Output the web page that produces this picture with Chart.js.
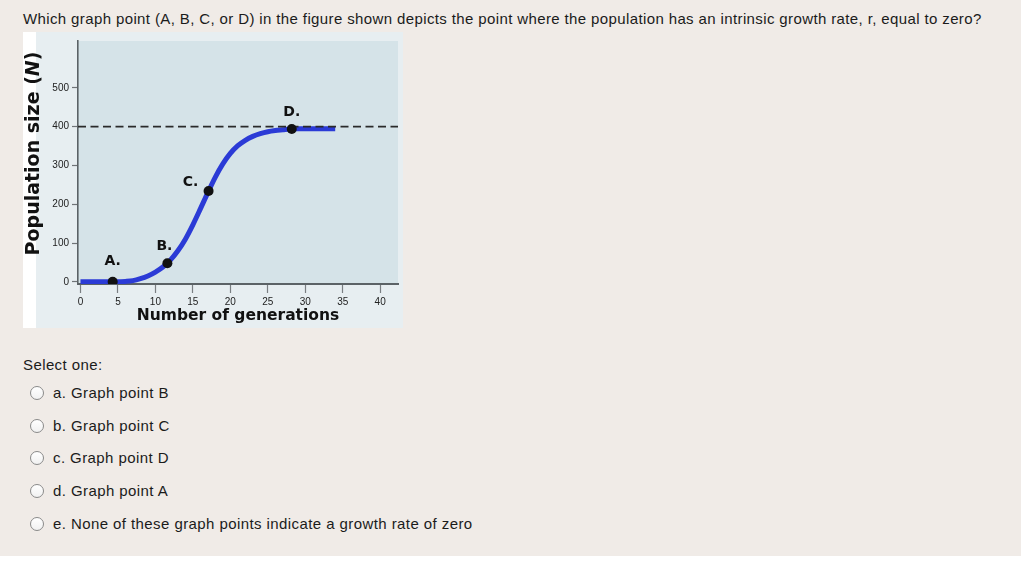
<!DOCTYPE html>
<html>
<head>
<meta charset="utf-8">
<script src="https://cdn.jsdelivr.net/npm/chart.js@4.4.1/dist/chart.umd.min.js"></script>
<style>
    html, body { margin: 0; padding: 0; }
    body {
        width: 1024px; height: 566px; overflow: hidden;
        background: #ffffff;
        font-family: "Liberation Sans", Arial, sans-serif;
        color: #1b1b1b;
    }
    #panel {
        position: absolute; left: 0; top: 0; width: 1021px; height: 556px;
        background: #f0ebe7;
    }
    #question {
        position: absolute; left: 23px; top: 10px;
        font-size: 15px; letter-spacing: 0.38px; white-space: nowrap;
    }
    #chart-box {
        position: absolute; left: 23px; top: 32px; width: 380px; height: 296px;
    }
    #select { position: absolute; left: 23px; top: 356px; font-size: 15px; letter-spacing: 0.4px; }
    .opt { position: absolute; left: 30px; font-size: 15px; letter-spacing: 0.42px; white-space: nowrap; height: 17px; }
    .opt .radio {
        position: absolute; left: 0; top: 1px; width: 12px; height: 12px;
        border: 1px solid #8a8a8a; border-radius: 50%;
        background: linear-gradient(#ffffff, #f1f1f1);
    }
    .opt span.txt { position: absolute; left: 23px; top: -1px; line-height: 17px; }
</style>
</head>
<body>
<div id="panel">
    <div id="question">Which graph point (A, B, C, or D) in the figure shown depicts the point where the population has an intrinsic growth rate, r, equal to zero?</div>
    <div id="chart-box"><canvas id="logisticChart"></canvas></div>
    <div id="select">Select one:</div>
    <div class="opt" style="top:385px"><div class="radio"></div><span class="txt">a. Graph point B</span></div>
    <div class="opt" style="top:418px"><div class="radio"></div><span class="txt">b. Graph point C</span></div>
    <div class="opt" style="top:450px"><div class="radio"></div><span class="txt">c. Graph point D</span></div>
    <div class="opt" style="top:483px"><div class="radio"></div><span class="txt">d. Graph point A</span></div>
    <div class="opt" style="top:516px"><div class="radio"></div><span class="txt">e. None of these graph points indicate a growth rate of zero</span></div>
</div>

<script>
// --- data ---
const generations = [0, 1, 2, 3, 4, 5, 6, 7, 8, 9, 10, 11, 12, 13, 14, 15, 16, 17,
    18, 19, 20, 21, 22, 23, 24, 25, 26, 27, 28, 29, 30, 31, 32, 33, 34];
const populationSize = [0, 0, 0, 0, 0, 0, 1, 3, 8, 15, 25, 38, 56, 80, 110, 147, 188, 230,
    270, 304, 331, 351, 365, 375, 382, 387, 390, 392, 394, 395, 395, 395, 395, 395, 395];

const markedGens = [4.3, 11.6, 17.1, 28.2];
const markedPop = [0, 48, 234, 394];
const markedNames = ['A.', 'B.', 'C.', 'D.'];

const carryingCapacity = 400;
const xTickValues = [0, 5, 10, 15, 20, 25, 30, 35, 40];
const yTickValues = [0, 100, 200, 300, 400, 500];

const X_MIN = -0.33, X_MAX = 42.38;
const Y_MIN = -5.7, Y_MAX = 621;

// label offsets (px) from each marked point
const labelOffsets = [[0, -20], [-3, -17], [-18, -9], [0, -17]];

const curvePts = generations.map((g, i) => ({ x: g, y: populationSize[i] }));
const markPts = markedGens.map((g, i) => ({ x: g, y: markedPop[i] }));

// backgrounds of the figure image
const panelBg = {
    id: 'panelBg',
    beforeDraw(chart) {
        const { ctx, chartArea } = chart;
        ctx.save();
        ctx.fillStyle = '#e7eef1';
        ctx.fillRect(0, 0, chart.width, chart.height);
        ctx.fillStyle = '#ffffff';
        ctx.fillRect(0, 0, 13, chart.height);
        ctx.fillStyle = '#d5e3e8';
        ctx.fillRect(chartArea.left, chartArea.top, chartArea.right - chartArea.left, chartArea.bottom - chartArea.top);
        ctx.restore();
    }
};

// point letters and the y title (N is italic)
const extraText = {
    id: 'extraText',
    afterDraw(chart) {
        const { ctx, scales } = chart;
        ctx.save();
        ctx.fillStyle = '#111';
        ctx.font = 'bold 14px "DejaVu Sans"';
        ctx.textAlign = 'center';
        ctx.textBaseline = 'middle';
        markedNames.forEach((name, i) => {
            const px = scales.x.getPixelForValue(markedGens[i]) + labelOffsets[i][0];
            const py = scales.y.getPixelForValue(markedPop[i]) + labelOffsets[i][1];
            ctx.fillText(name, px, py);
        });

        // y axis title
        const parts = [
            ['Population size (', 'bold 19px "DejaVu Sans"'],
            ['N', 'italic bold 19px "DejaVu Sans"'],
            [')', 'bold 19px "DejaVu Sans"']
        ];
        let total = 0;
        parts.forEach(p => { ctx.font = p[1]; total += ctx.measureText(p[0]).width; });
        const cy = 153.5 - 32;
        ctx.translate(11, cy);
        ctx.rotate(-Math.PI / 2);
        ctx.textAlign = 'left';
        let x = -total / 2;
        parts.forEach(p => {
            ctx.font = p[1];
            ctx.fillText(p[0], x, 0);
            x += ctx.measureText(p[0]).width;
        });
        ctx.restore();
    }
};

const tickFont = { family: '"Liberation Sans", Arial, sans-serif', size: 10 };

new Chart(document.getElementById('logisticChart'), {
    type: 'scatter',
    data: {
        datasets: [
            {
                label: 'marked',
                data: markPts,
                showLine: false,
                pointRadius: 5,
                pointBackgroundColor: '#111111',
                pointBorderColor: '#111111',
                pointBorderWidth: 0,
                order: 0
            },
            {
                label: 'K',
                data: [{ x: X_MIN, y: carryingCapacity }, { x: X_MAX, y: carryingCapacity }],
                showLine: true,
                borderColor: '#2a2a2a',
                borderWidth: 1.8,
                borderDash: [8, 4.5],
                pointRadius: 0,
                order: 1
            },
            {
                label: 'N',
                data: curvePts,
                showLine: true,
                borderColor: '#2b3bd6',
                borderWidth: 5,
                pointRadius: 0,
                cubicInterpolationMode: 'monotone',
                borderCapStyle: 'butt',
                order: 2
            }
        ]
    },
    options: {
        responsive: true,
        maintainAspectRatio: false,
        animation: false,
        layout: { padding: 0 },
        plugins: {
            legend: { display: false },
            tooltip: { enabled: false }
        },
        scales: {
            x: {
                type: 'linear',
                min: X_MIN,
                max: X_MAX,
                afterBuildTicks: s => { s.ticks = xTickValues.map(v => ({ value: v })); },
                afterFit: s => { s.height = 44; },
                grid: { drawOnChartArea: false, drawTicks: true, tickLength: 9, tickColor: '#7a7f82', tickWidth: 1.2 },
                border: { color: '#5b6266', width: 2 },
                ticks: { font: tickFont, color: '#222', padding: 3, maxRotation: 0, autoSkip: false },
                title: {
                    display: true,
                    text: 'Number of generations',
                    color: '#111',
                    font: { family: '"DejaVu Sans"', size: 15.5, weight: 'bold' },
                    padding: { top: 0, bottom: 3 }
                }
            },
            y: {
                type: 'linear',
                min: Y_MIN,
                max: Y_MAX,
                afterBuildTicks: s => { s.ticks = yTickValues.map(v => ({ value: v })); },
                afterFit: s => { s.width = 55; },
                grid: { drawOnChartArea: false, drawTicks: true, tickLength: 6, tickColor: '#6f7477', tickWidth: 1.2 },
                border: { color: '#5b6266', width: 1.6 },
                ticks: { font: tickFont, color: '#222', padding: 3 }
            }
        }
    },
    plugins: [panelBg, extraText]
});
</script>
</body>
</html>
